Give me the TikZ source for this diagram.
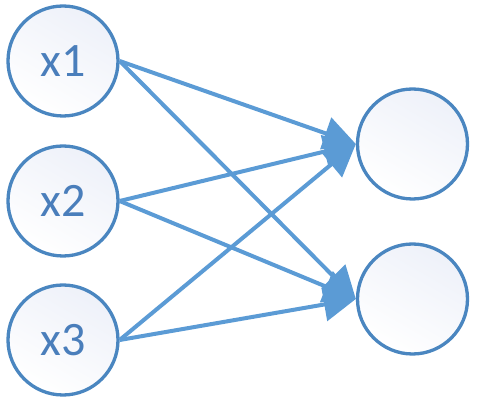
\documentclass[tikz,border=0pt]{standalone}
\usepackage{fontspec}
\setmainfont{Carlito}
\usetikzlibrary{arrows.meta,shadings}
\definecolor{lineblue}{HTML}{5B9BD5}
\definecolor{ringblue}{HTML}{4A86C0}
\definecolor{txtblue}{HTML}{4A7EBB}
\definecolor{fillA}{HTML}{EEF1F9}
\definecolor{fillB}{HTML}{FFFFFF}
\tikzset{
  neuron/.style={circle, draw=ringblue, line width=3.3pt, minimum size=110pt, inner sep=0pt,
    top color=fillA, bottom color=fillB, shading angle=-30,
    text=txtblue, font=\fontsize{48}{48}\selectfont},
  conn/.style={draw=lineblue, line width=4pt, -{Triangle[length=32pt,width=33pt]}}
}
\begin{document}
\begin{tikzpicture}[x=1pt,y=-1pt]
\useasboundingbox (0,0) rectangle (480,406);
\node[neuron] (x1) at (63,61) {x1};
\node[neuron] (x2) at (63,201) {x2};
\node[neuron] (x3) at (63,340) {x3};
\node[neuron] (y1) at (412.5,144) {};
\node[neuron] (y2) at (412.5,299) {};
\foreach \s in {x1,x2,x3}{
  \foreach \t in {y1,y2}{
    \draw[conn] (\s.east) -- (\t.west);
  }
}
\end{tikzpicture}
\end{document}
